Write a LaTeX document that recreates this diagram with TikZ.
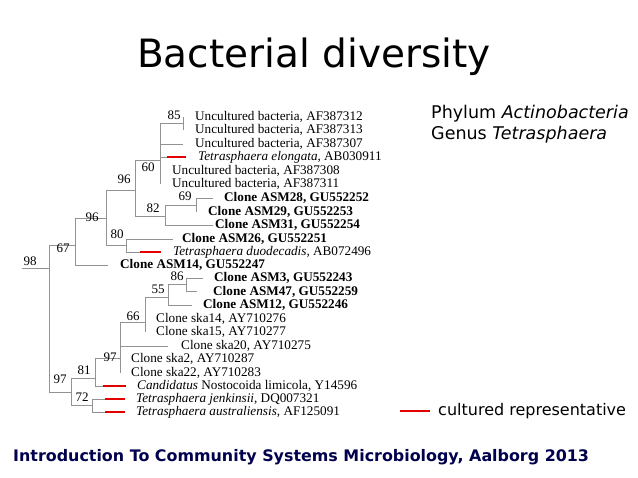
\documentclass[tikz,border=0pt]{standalone}
\usepackage{fontspec}
\setmainfont{Liberation Serif}
\newfontfamily\dv{DejaVu Sans}
\begin{document}
\begin{tikzpicture}[x=1pt,y=-1pt,
  br/.style={draw=gray!85,line width=0.9pt},
  rd/.style={draw=red!90!black,line width=2.2pt},
  lf/.style={anchor=west,inner sep=0pt,font=\fontsize{13.2}{14}\selectfont},
  bs/.style={anchor=base,inner sep=0pt,font=\fontsize{13}{14}\selectfont}]
\useasboundingbox (0,0) rectangle (638,478);
\node[font=\dv\fontsize{39}{44}\selectfont] (title) at (314,57) {Bacterial diversity};
\node[anchor=west,inner sep=0pt,font=\dv\fontsize{17.5}{21}\selectfont,align=left] (phy) at (431,124) {Phylum \textit{Actinobacteria}\\Genus \textit{Tetrasphaera}};
\node[anchor=west,inner sep=0pt,font=\dv\fontsize{16}{18}\selectfont] (leg) at (438,411) {cultured representative};
\coordinate (l1) at (400,411); \coordinate (l2) at (430,411);
\draw[rd] (l1) -- (l2);
\node[anchor=west,inner sep=0pt,font=\dv\bfseries\fontsize{15.9}{18}\selectfont,text=blue!30!black] (foot) at (13,457) {Introduction To Community Systems Microbiology, Aalborg 2013};
% tree
\draw[br] (22,268) -- (49,268);
\draw[br] (49,245) -- (49,392);
% 67
\draw[br] (49,245) -- (75,245) (75,218) -- (75,265) -- (108,265);
% 96b
\draw[br] (75,218) -- (106,218) (106,190) -- (106,245) -- (126,245) (126,239) -- (126,252);
\draw[br] (126,239) -- (173,239) (126,252) -- (140,252);
\draw[rd] (140,252) -- (161,252);
% 96a
\draw[br] (106,190) -- (135,190) (135,160) -- (135,216);
\draw[br] (135,160) -- (160,160) (160,123) -- (160,184);
\draw[br] (160,123) -- (183,123) (183,117) -- (183,130);
\draw[br] (160,144) -- (183,144) (160,157) -- (167,157);
\draw[rd] (167,157) -- (186,157);
% 82
\draw[br] (135,216) -- (165,216) (165,205) -- (165,225) -- (213,225);
\draw[br] (165,205) -- (196,205) (196,198) -- (196,212) (196,198) -- (213,198);
% 97 bottom
\draw[br] (49,392) -- (71,392) (71,378) -- (71,405);
\draw[br] (71,378) -- (95,378) (95,358) -- (95,386) -- (103,386);
\draw[rd] (103,386) -- (126,386);
\draw[br] (71,405) -- (92,405) (92,399) -- (92,412) (92,399) -- (105,399) (92,412) -- (105,412);
\draw[rd] (105,399) -- (125,399) (105,412) -- (125,412);
% 97b
\draw[br] (95,358) -- (120,358) (120,322) -- (120,373) (120,346) -- (168,346);
\draw[br] (120,322) -- (145,322) (145,297) -- (145,332);
\draw[br] (145,297) -- (168,297) (168,284) -- (168,305) -- (192,305);
\draw[br] (168,284) -- (186,284) (186,278) -- (186,291) (186,278) -- (203,278) (186,291) -- (197,291);
% bootstrap labels
\node[bs] (b98) at (30,266) {98};
\node[bs] (b67) at (63,253) {67};
\node[bs] (b96b) at (92,222) {96};
\node[bs] (b96a) at (124,184) {96};
\node[bs] (b60) at (148,172) {60};
\node[bs] (b85) at (174,120) {85};
\node[bs] (b82) at (153,213) {82};
\node[bs] (b69) at (185,201) {69};
\node[bs] (b80) at (117,239) {80};
\node[bs] (b86) at (177,281) {86};
\node[bs] (b55) at (158,294) {55};
\node[bs] (b66) at (133,321) {66};
\node[bs] (b97b) at (110,362) {97};
\node[bs] (b81) at (84,375) {81};
\node[bs] (b97) at (60,384) {97};
\node[bs] (b72) at (82,402) {72};
% leaves
\node[lf] (t1) at (195,117) {Uncultured bacteria, AF387312};
\node[lf] (t2) at (195,130) {Uncultured bacteria, AF387313};
\node[lf] (t3) at (195,144) {Uncultured bacteria, AF387307};
\node[lf] (t4) at (198,157) {\textit{Tetrasphaera elongata}, AB030911};
\node[lf] (t5) at (172,171) {Uncultured bacteria, AF387308};
\node[lf] (t6) at (172,184) {Uncultured bacteria, AF387311};
\node[lf] (t7) at (224,198) {\textbf{Clone ASM28, GU552252}};
\node[lf] (t8) at (208,212) {\textbf{Clone ASM29, GU552253}};
\node[lf] (t9) at (215,225) {\textbf{Clone ASM31, GU552254}};
\node[lf] (t10) at (182,239) {\textbf{Clone ASM26, GU552251}};
\node[lf] (t11) at (173,252) {\textit{Tetrasphaera duodecadis}, AB072496};
\node[lf] (t12) at (120,265) {\textbf{Clone ASM14, GU552247}};
\node[lf] (t13) at (214,278) {\textbf{Clone ASM3, GU552243}};
\node[lf] (t14) at (213,292) {\textbf{Clone ASM47, GU552259}};
\node[lf] (t15) at (203,305) {\textbf{Clone ASM12, GU552246}};
\node[lf] (t16) at (156,319) {Clone ska14, AY710276};
\node[lf] (t17) at (156,332) {Clone ska15, AY710277};
\node[lf] (t18) at (181,346) {Clone ska20, AY710275};
\node[lf] (t19) at (131,359) {Clone ska2, AY710287};
\node[lf] (t20) at (131,373) {Clone ska22, AY710283};
\node[lf] (t21) at (137,386) {\textit{Candidatus} Nostocoida limicola, Y14596};
\node[lf] (t22) at (136,399) {\textit{Tetrasphaera jenkinsii}, DQ007321};
\node[lf] (t23) at (136,412) {\textit{Tetrasphaera australiensis}, AF125091};
\end{tikzpicture}
\end{document}
